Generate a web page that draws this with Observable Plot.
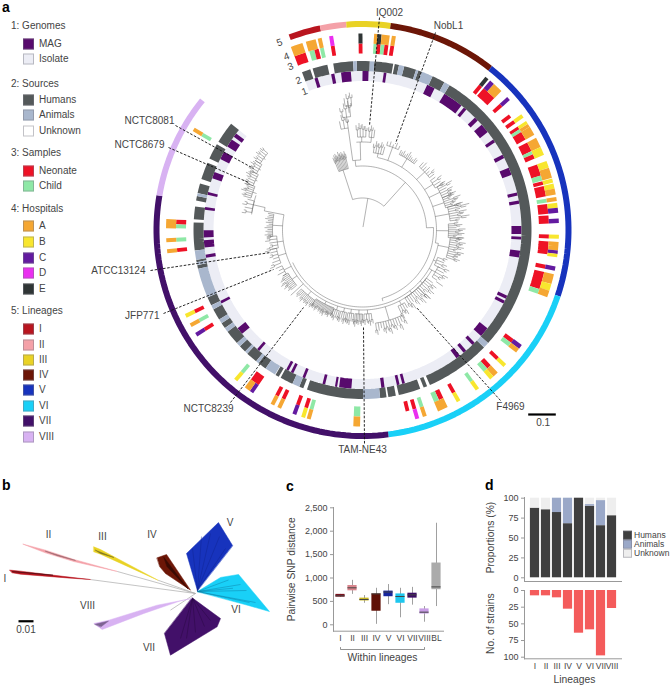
<!DOCTYPE html>
<html><head><meta charset="utf-8">
<script src="https://cdn.jsdelivr.net/npm/d3@7"></script>
<script src="https://cdn.jsdelivr.net/npm/@observablehq/plot@0.6"></script>
<style>
html,body{margin:0;padding:0;background:#fff}
#page{position:relative;width:672px;height:685px;overflow:hidden;font-family:"Liberation Sans",Arial,sans-serif;color:#444}
#page svg{position:absolute;overflow:visible}
.lg{position:absolute;white-space:nowrap;line-height:1.2;transform:translateY(-50%)}
.sw{position:absolute;transform:translateY(-50%);box-sizing:border-box;border:0.6px solid rgba(120,120,130,.45)}
.pl{position:absolute;font-weight:700;font-size:14px;color:#000;line-height:1.1;transform:translateY(-50%)}
</style></head><body><div id="page"></div>
<script>
// ---------- shared categories and colours ----------
const lineageNames=["I","II","III","IV","V","VI","VII","VIII"];
const lineageColors=["#b9151f","#f4a1a8","#e9d225","#6c1607","#1733bd","#19d0f7","#421069","#d8b2f2"];
const hospitalColors={A:"#f5a733",B:"#f8e62e",C:"#631aa0",D:"#ea2ff0",E:"#2f3535"};
const sampleColors={N:"#ee1226",G:"#8ee8a6"};
const magColor="#580a6d",isolateColor="#ecedf5",humansColor="#54595a",animalsColor="#a9b7cd";

// ---------- panel a: rings, [start angle, end angle] in degrees clockwise from north ----------
const lineageSpans=[[-20.7,-11.8],[-11.8,-4.5],[-4.5,7.8],[7.8,38.3],[38.3,108.6],[108.6,172.8],[172.8,279.6],[279.6,309]];
const isolateSpan=[[-21,309]];
const magSpans=[[-17.6,-16.4],[-11.4,-10.2],[-7.8,-4.2],[0,2.2],[7.7,8.7],[24,27],[31,38.5],[39.6,40.8],[45,46.5],[48.5,52],[55.3,56.5],[61.7,63.1],[66.9,69.7],[76.3,77.5],[79.3,80.5],[88.5,91.5],[92.4,93.4],[97.5,100],[114.4,115.6],[116.4,117.6],[128.2,131.8],[135.1,136.3],[139.3,140.5],[142.2,143.8],[164.5,165.5],[166.5,167.5],[172,173.2],[184,188.5],[189.2,190],[193.6,194.6],[201.2,202.2],[205.8,206.8],[207.7,208.7],[220.5,221.5],[229.2,231.8],[242.5,243.5],[259.9,261.1],[263.7,266.3],[267.3,269.9],[277.3,278.3],[282.8,283.8],[289,291.4],[296.5,299.5],[301.7,304.7],[305.9,307.4]];
const humanSpans=[[-21,-18],[-17.2,-12],[-10,-3.2],[-2,2.5],[4,10.5],[11,12.5],[14.3,18.5],[19.3,20.5],[24.5,29],[31,132],[134,156.5],[157.5,158.8],[160,167.6],[168.6,171.2],[171.8,174],[179.8,199.2],[200.5,202],[204.5,209],[209.7,211],[215,218],[219,223],[224,226.5],[228,233],[234.5,236.5],[238,242],[243.5,246.5],[256.7,258],[259,259.8],[263,272.6],[273.6,278],[280,281.6],[282.6,286],[287.5,293.5],[295,300.5],[301.5,309]];
const animalSpans=[[-3.2,-2],[2.5,4],[12.5,14.3],[18.5,19.3],[20.5,24.5],[29,31],[132,134],[174,179.8],[202,204.5],[211.2,215],[218,219],[223,224],[226.5,228],[233,234.5],[236.5,238],[242,243.5],[246.5,256.7],[258,259],[259.8,263],[281.6,282.6]];
const sampleSpans=[[-21.4,-17.8,"N"],[-16.6,-15,"G"],[-15,-13.6,"N"],[-13.2,-12,"G"],[-9.8,-8.6,"N"],[-1.2,0,"N"],[3.4,4.4,"G"],[4.4,5.6,"N"],[5.6,6.8,"G"],[6.8,8,"N"],[8.6,9.8,"N"],[38.7,39.9,"N"],[40.5,45,"N"],[47.4,48.6,"N"],[51.7,52.9,"N"],[53.9,55.1,"N"],[56.3,57.3,"N"],[57.3,58.3,"G"],[58.3,61,"N"],[62,65,"N"],[65,66,"G"],[66,67.5,"N"],[69.4,73,"N"],[73,74.6,"G"],[74.8,76,"N"],[76.3,79.6,"N"],[80.3,81.5,"G"],[82,85,"N"],[85.5,88,"N"],[91.4,92.6,"N"],[93.5,97.5,"N"],[100.7,102,"N"],[103,108.5,"N"],[108.5,110,"G"],[125.8,127.2,"N"],[127.2,128.6,"G"],[133,134.2,"N"],[136.5,138,"N"],[138,139.5,"G"],[143.6,144.8,"G"],[150.1,151.3,"N"],[154.3,155.8,"N"],[155.8,157.4,"G"],[160.9,162.1,"G"],[163.2,164.4,"N"],[165.4,166.6,"N"],[180.7,182.7,"G"],[195.3,196.5,"G"],[197,198.2,"N"],[199.7,200.9,"N"],[204.5,205.7,"N"],[206.7,207.9,"N"],[213.8,216.8,"N"],[219.6,220.8,"G"],[237.2,238.4,"N"],[240.4,241.6,"G"],[243.5,244.7,"N"],[263.2,264.4,"N"],[266.4,267.6,"G"],[270.5,271.8,"G"],[271.8,273.2,"N"],[300.2,301.4,"G"]];
const hospitalSpans=[[-21.4,-17.8,"A"],[-16.8,-13.8,"A"],[-13.2,-12,"A"],[-9.8,-8.6,"D"],[-1.2,0,"E"],[3.4,4.4,"A"],[4.4,5.6,"E"],[5.6,8,"A"],[8.6,9.8,"A"],[38.7,39.9,"E"],[40.5,42,"C"],[42,45,"A"],[47.4,48.6,"C"],[53.9,55.1,"B"],[56.3,57.3,"B"],[57.3,58.3,"A"],[58.3,61,"A"],[62,65,"A"],[65,67.5,"B"],[69.4,71.5,"B"],[71.5,74.6,"A"],[74.8,76,"B"],[76.3,77.8,"B"],[77.8,79.6,"A"],[80.3,81.5,"A"],[82,83.5,"B"],[83.5,85,"C"],[86.6,88,"C"],[91.4,92.6,"B"],[93.5,96,"A"],[96,97,"C"],[97,98,"B"],[100.7,102,"C"],[103,106,"A"],[106,108,"B"],[108,110,"A"],[125.8,127.2,"C"],[127.2,128.6,"A"],[133,134.2,"B"],[136.5,138.2,"A"],[138.2,139.5,"B"],[143.6,144.8,"B"],[150.1,151.3,"B"],[154.3,157.4,"A"],[160.9,162.1,"A"],[163.2,164.4,"D"],[180.7,182.7,"A"],[195.3,196.5,"A"],[197,198.2,"B"],[199.7,200.9,"C"],[204.5,205.7,"A"],[206.7,207.9,"A"],[213.8,215,"C"],[215,216.8,"A"],[219.6,220.8,"B"],[237.2,238.4,"C"],[240.4,241.6,"A"],[243.5,244.7,"B"],[263.2,264.4,"A"],[266.4,267.6,"A"],[270.5,273.2,"A"],[300.2,301.4,"A"]];

// ---------- panel a: tree, backbone arcs [a0,a1,r], radials [a,r0,r1] ----------
const treeArcs=[[-18,42,32],[-6,88,64],[-8,-1.5,70],[-4,5.5,88],[88,164,71],[12,100,74],[100,245,77],[120,281,80],[281,283,100],[278,288,112]];
const treeRadials=[[9.6,32,3],[42,32,64],[-6,64,70],[-1.5,70,88],[-8,70,103],[-18,32,63],[88,64,71],[100,74,77],[164,71,74],[281,80,100],[283,100,112],[227.7,80,97],[125,90,98]];
// clades: [first tip angle, last tip angle, arc radius, stem origin radius, tip lengths]
const clades=[
[-12,-8,103,103,[8,14,10]],[-10,-6,114,108,[10,14,16]],[-8,-5,125,118,[8,12,13]],
[-3,2,93,88,[12,14,13,11]],[4,7,93,88,[10,12,8]],
[-22,-13,63,63,[15,17,18,16,19,17,18,16,18]],
[8,15,78,74,[9,12,10,12,8]],[16,24,88,74,[4,5,3,6,4]],
[26,38,84,74,[5,4,6,3,5,8,5,4,3,6,5]],[42,52,85,74,[6,8,5,7,4,9,6]],
[54,60,84,74,[6,12,8,10]],[60,68,86,74,[10,16,8,14,12,15]],[68,75,86,74,[12,9,18,14,10,16]],[75,84,88,74,[16,22,12,18,14,20,10]],
[86,95,86,74,[10,14,8,17,12,16,9,15]],[95,108,88,77,[14,10,16,12,15,9,16,13,11,14]],
[110,116,80,77,[10,8,12,6]],[116,124,84,77,[12,8,14,10,6]],
[127,136,80,77,[8,14,12,16,10,17]],[136,148,80,77,[16,12,17,10,14,8,15,12]],
[150,155,84,80,[6,12,10,14]],[155,172,94,80,[10,6,14,8,12,9,14,10,12,6,8,12]],
[174,179,84,80,[10,12,9,11]],[180,185,84,80,[9,12,8,11,10,13]],[186,190,84,80,[10,8,12,11]],[191,195,84,80,[10,12,8,11]],[196,200,84,80,[10,8,11,9]],
[200,214,83,80,[7,9,8,11,9,10,8,12,9,11,8,10,7,9,11,8,10,9]],
[214,226,85,80,[7,9,6,10,8,9,7,10,8,6,9,7]],
[230,240,86,80,[7,10,8,12,9,13,7,11,8,6]],[240,246,88,80,[4,8,5,7]],
[248,258,88,80,[12,8,6,9,7,5]],[258,266,86,80,[14,9,8,12,10]],
[266,280,90,80,[6,8,5,7,5,8,6,4,7,5,8,6,5,6]],
[279,285,112,112,[10,8,11,7]],[286,292,116,112,[8,10,7,12,9,8,10]],[292,298,118,116,[9,11,8,10,12,9]],[298,303,120,118,[7,10,9,11,8]],[303,309,122,120,[6,9,7,10,8,9]]
];

// ---------- panel a: text and leaders, offsets from the tree centre ----------
const ringNumbers=[["5",-83,-187.5],["4",-76,-173.5],["3",-72,-163.5],["2",-64,-149.5],["1",-58,-138.5]];
const labelsMiddle=[["IQ002",27,-217.5],["NobL1",86,-204.5],["NCTC8239",-154,178.5],["TAM-NE43",0,219.5],["F4969",148,176.5]];
const labelsEnd=[["NCTC8081",-188,-109.5],["NCTC8679",-198,-85.5],["ATCC13124",-217,40.5],["JFP771",-203,85.5]];
const leaders=[[17,-212.5,7,-104.5],[73,-197.5,33,-86.5],[-187,-104.5,-109,-61.5],[-194,-82.5,-114,-47.5],[-212,40.5,-92,22.5],[-199,83.5,-89,39.5],[-132,172.5,-59,77.5],[2,213.5,1,97.5],[138,170.5,54,77.5]];
const scaleBarA=[[165.7,184.5,193.3,184.5]];

// ---------- panel b: polygons, units of 0.001 substitutions per site ----------
const starI=[[-123.8,15.6],[-116.7,14.9],[-85.6,11.1],[-70,9.3],[-85.6,10.4],[-116.7,12.9],[-122.2,13.8]];
const starII=[[-114.9,32.9],[-100,28.9],[-81.1,22.7],[-52.2,14.7],[-81.1,21.3],[-100,27.1]];
const starIII=[[-67.8,31.1],[-63.3,29.3],[-25.1,8.9],[-63.3,26.2],[-67.8,27.8]];
const starIV=[[-25.6,23.8],[-19.3,26],[-3.3,2.2],[-20,13.3],[-23.8,17.8]];
const starV=[[1.3,2],[-6,26.7],[15.3,47.3],[24.7,32]];
const starVI=[[1.3,1.3],[16.7,10.7],[28.7,12.7],[49.3,-12],[35.3,-8]];
const starVII=[[-2.2,-2.9],[16.7,-16.7],[14.4,-22.2],[-16.7,-41.1],[-20.7,-26.7]];
const starVIII=[[-2.2,-3.3],[-25.6,-7.8],[-57.8,-17.8],[-67.8,-20],[-62.2,-24],[-34.4,-13.3],[-10,-4.9]];
const starDark=[
 {c:"#4a0f14",p:[[-122,14.6],[-95,12.2],[-110,13.6]]},
 {c:"#9a6a70",p:[[-100,28.2],[-80,22],[-92,25.2]]},
 {c:"#7d7320",p:[[-66.7,28.9],[-54.4,24],[-63.3,26.7]]},
 {c:"#3a0a03",p:[[-21,24],[-5,3],[-19,18]]},
 {c:"#7d6392",p:[[-67,-20.5],[-58,-18.4],[-63,-22.2]]}];
const fanLines=[
 {c:"#0e2088",o:[1.3,2],e:[[-2,30],[4,38],[10,40],[16,38],[20,30]]},
 {c:"#0b6d92",o:[1.3,1.3],e:[[22,9],[30,6],[34,2],[25,3.5],[40,-6],[36,-6]]},
 {c:"#220538",o:[-2,-3],e:[[-10,-30],[-6,-30],[0,-26],[6,-22],[10,-18]]}];
const greyStems=[[-70,9.3],[-52.2,14.7],[-25.1,8.9],[-16.7,-11.1]];
const starLabels=[["I",-127,10],["II",-98,39],["III",-62,38],["IV",-29,39],["V",23,47],["VI",27,-10.7],["VII",-31,-36],["VIII",-72,-8]];
const scaleBarB=[[-118,-18.5,-108,-18.5]];

// ---------- panel c ----------
const boxGroups=["I","II","III","IV","V","VI","VII","VIII","BL"];
const boxColors=["#7b1420","#d9858d","#c7b61f","#5f1006","#17259f","#1ec7ee","#3b0c63","#c89de6","#ababab"];
const whiskLow=[590,650,460,10,430,150,420,55,390];
const boxLow=[590,726,510,290,600,460,570,230,750];
const boxMedian=[620,790,540,660,700,605,640,270,810];
const boxHigh=[650,840,570,660,720,660,675,340,1320];
const whiskHigh=[650,950,625,780,860,780,800,390,2170];
const snpTicks=[0,500,1000,1500,2000,2500];

// ---------- panel d ----------
const humansPct=[87.5,85.5,82,68,100,90,65.5,78];
const animalsPct=[0,0,18,32,0,2,31.5,0];
const unknownPct=[12.5,14.5,0,0,0,8,3,22];
const strainCounts=[8,8,11,28,64,59,98,27];
const dTicks=[0,25,50,75,100];

// ---------- legend ----------
const legendGroups=[
 {title:"1: Genomes",y:26,items:[["MAG",magColor,43.7],["Isolate",isolateColor,59]]},
 {title:"2: Sources",y:83.5,items:[["Humans",humansColor,100],["Animals",animalsColor,115],["Unknown","#ffffff",131]]},
 {title:"3: Samples",y:153,items:[["Neonate",sampleColors.N,171],["Child",sampleColors.G,186]]},
 {title:"4: Hospitals",y:208.5,items:[["A",hospitalColors.A,226],["B",hospitalColors.B,242.3],["C",hospitalColors.C,257.7],["D",hospitalColors.D,273.3],["E",hospitalColors.E,288.7]]},
 {title:"5: Lineages",y:311,items:lineageNames.map((n,i)=>[n,lineageColors[i],[329.3,344.7,360,375.3,390.3,405.7,421,436.7][i]])}
];
const dLegend=[["Humans","#3f3f3f",535],["Animals","#9aa8c8",544],["Unknown","#eeeeee",553.3]];

const page=document.getElementById("page");
const font='"Liberation Sans",Arial,sans-serif', ink="#444";
function place(el,l,t){el.style.left=l+"px";el.style.top=t+"px";page.appendChild(el);}
function txt(s,l,t,size,cls="lg"){const d=document.createElement("div");d.className=cls;d.textContent=s;d.style.left=l+"px";d.style.top=t+"px";if(size)d.style.fontSize=size+"px";page.appendChild(d);}
function swatch(c,l,t,w,h){const d=document.createElement("div");d.className="sw";d.style.cssText+=`left:${l}px;top:${t}px;width:${w}px;height:${h}px;background:${c}`;page.appendChild(d);}

// ---------- polar helpers ----------
const pol=(a,r)=>({x:r*Math.sin(a*Math.PI/180),y:-r*Math.cos(a*Math.PI/180)});
let sid=0;
function arcRows(a0,a1,r,color){const id=sid++,n=Math.max(1,Math.ceil(Math.abs(a1-a0)/1.5)),o=[];for(let i=0;i<=n;i++){o.push({id,color,...pol(a0+(a1-a0)*i/n,r)});}return o;}
function ringMark(spans,r,w,colorOf){
  const rows=spans.flatMap(s=>arcRows(s[0],s[1],r,colorOf(s)));
  return Plot.line(rows,{x:"x",y:"y",z:"id",stroke:"color",strokeWidth:w,strokeLinecap:"butt",strokeLinejoin:"miter"});
}
const lineageRows=lineageSpans.map((s,i)=>[s[0],s[1],lineageColors[i]]);
const treeRows=[];
const spoke=(a,r0,r1)=>{const id=sid++;treeRows.push({id,...pol(a,r0)},{id,...pol(a,r1)});};
treeArcs.forEach(([a0,a1,r])=>treeRows.push(...arcRows(a0,a1,r,"")));
treeRadials.forEach(([a,r0,r1])=>spoke(a,r0,r1));
clades.forEach(([a0,a1,base,from,tips])=>{
  treeRows.push(...arcRows(a0,a1,base,""));
  const m=(a0+a1)/2;
  if(from!==base)spoke(m,from,base);
  const w=(a1-a0)/(tips.length-1)/3;
  tips.forEach((len,i)=>{
    const a=a0+(a1-a0)*i/(tips.length-1);
    if(len<9){spoke(a,base,base+len);return;}
    // long tips end in a small terminal fork
    const f=base+len*0.6;
    spoke(a,base,f);
    treeRows.push(...arcRows(a-w,a+w,f,""));
    spoke(a-w,f,base+len);spoke(a+w,f,base+len*0.84);
  });
});

// ---------- panel a ----------
const plotA=Plot.plot({width:672,height:470,margin:0,
  x:{domain:[-362,310],axis:null},y:{domain:[240.5,-229.5],range:[470,0],axis:null},
  color:{type:"identity"},style:{background:"transparent",fontFamily:font,fontSize:"10px",overflow:"visible"},
  marks:[
    ringMark(isolateSpan,154,10,()=>isolateColor),
    ringMark(magSpans,154,10,()=>magColor),
    ringMark(humanSpans,164,10,()=>humansColor),
    ringMark(animalSpans,164,10,()=>animalsColor),
    ringMark(sampleSpans,181.5,10,s=>sampleColors[s[2]]),
    ringMark(hospitalSpans,191.5,10,s=>hospitalColors[s[2]]),
    ringMark(lineageRows,206,6,s=>s[2]),
    Plot.line(treeRows,{x:"x",y:"y",z:"id",stroke:"#555",strokeWidth:0.45,strokeLinecap:"butt"}),
    Plot.link(leaders,{x1:d=>d[0],y1:d=>d[1],x2:d=>d[2],y2:d=>d[3],stroke:"#111",strokeWidth:0.9,strokeDasharray:"2.6,1.6"}),
    Plot.text(labelsMiddle,{x:d=>d[1],y:d=>d[2],text:d=>d[0],fill:ink}),
    Plot.text(labelsEnd,{x:d=>d[1],y:d=>d[2],text:d=>d[0],textAnchor:"end",fill:ink}),
    Plot.text(ringNumbers,{x:d=>d[1],y:d=>d[2],text:d=>d[0],rotate:-20,fill:ink,fontSize:10}),
    Plot.link(scaleBarA,{x1:d=>d[0],y1:d=>d[1],x2:d=>d[2],y2:d=>d[3],stroke:"#000",strokeWidth:2.2}),
    Plot.text([["0.1",180.7,193]],{x:d=>d[1],y:d=>d[2],text:d=>d[0],fill:ink})
  ]});
place(plotA,0,0);

// ---------- panel b ----------
const poly=(pts,fill,stroke=fill)=>Plot.line(pts,{x:d=>d[0],y:d=>d[1],curve:"linear-closed",fill,stroke,strokeWidth:0.5});
const plotB=Plot.plot({width:270,height:215,margin:0,
  x:{domain:[-130,50],axis:null},y:{domain:[-61.33,82],axis:null},
  style:{background:"transparent",fontFamily:font,fontSize:"10px",overflow:"visible"},
  marks:[
    Plot.link(greyStems,{x1:d=>d[0],y1:d=>d[1],x2:0,y2:0,stroke:"#aaa",strokeWidth:0.7}),
    poly(starI,lineageColors[0]),poly(starII,lineageColors[1]),poly(starIII,lineageColors[2]),poly(starIV,lineageColors[3]),
    poly(starV,lineageColors[4]),poly(starVI,lineageColors[5]),poly(starVII,lineageColors[6]),poly(starVIII,lineageColors[7]),
    ...starDark.map(d=>poly(d.p,d.c)),
    ...fanLines.map(f=>Plot.link(f.e,{x1:f.o[0],y1:f.o[1],x2:d=>d[0],y2:d=>d[1],stroke:f.c,strokeWidth:0.7,strokeOpacity:0.55})),
    Plot.text(starLabels,{x:d=>d[1],y:d=>d[2],text:d=>d[0],fill:ink}),
    Plot.link(scaleBarB,{x1:d=>d[0],y1:d=>d[1],x2:d=>d[2],y2:d=>d[3],stroke:"#000",strokeWidth:2.2}),
    Plot.text([["0.01",-113,-24.5]],{x:d=>d[1],y:d=>d[2],text:d=>d[0],fill:ink})
  ]});
place(plotB,0,470);

// ---------- panel c ----------
const boxRows=boxGroups.map((g,i)=>({g,c:boxColors[i],wl:whiskLow[i],bl:boxLow[i],m:boxMedian[i],bh:boxHigh[i],wh:whiskHigh[i]}));
const plotC=Plot.plot({width:185,height:215,marginLeft:63,marginTop:37,marginBottom:54.3,marginRight:12,
  x:{type:"band",domain:boxGroups,range:[63.96,172.7],padding:0,axis:null},
  y:{domain:[0,2500],range:[154.3,37.3],axis:null},color:{type:"identity"},
  style:{background:"transparent",fontFamily:font,fontSize:"9px",overflow:"visible"},
  marks:[
    Plot.frame({anchor:"left",stroke:"#999"}),Plot.frame({anchor:"bottom",stroke:"#999"}),
    Plot.axisY({ticks:snpTicks,tickFormat:d3.format(","),tickSize:3,tickPadding:3,label:null,stroke:"#999",fill:ink}),
    Plot.axisX({tickSize:0,tickPadding:4,label:null,fill:ink,fontSize:8.5}),
    Plot.ruleX(boxRows,{x:"g",y1:"wl",y2:"wh",stroke:"#888",strokeWidth:0.8}),
    Plot.barY(boxRows,{x:"g",y1:"bl",y2:"bh",fill:"c",insetLeft:1.4,insetRight:1.4}),
    Plot.tickY(boxRows,{x:"g",y:"m",stroke:"#444",strokeWidth:1,insetLeft:1.4,insetRight:1.4}),
    Plot.line([["I",-485],["I",-528],["VIII",-528],["VIII",-485]],{x:d=>d[0],y:d=>d[1],stroke:"#777",strokeWidth:0.8}),
    Plot.text([["Within lineages"]],{x:()=>"IV",y:()=>-705,dx:6,text:d=>d[0],fill:ink,fontSize:10.3}),
    Plot.text([["Pairwise SNP distance"]],{frameAnchor:"left",textAnchor:"middle",text:d=>d[0],rotate:-90,dx:-42,dy:0,fill:ink,fontSize:10.3})
  ]});
place(plotC,270,470);

// ---------- panel d ----------
const propRows=lineageNames.flatMap((n,i)=>[{n,k:"Humans",v:humansPct[i],c:"#3f3f3f"},{n,k:"Animals",v:animalsPct[i],c:"#9aa8c8"},{n,k:"Unknown",v:unknownPct[i],c:"#eeeeee"}]);
const plotD1=Plot.plot({width:212,height:115,marginLeft:64,marginTop:27,marginBottom:4,marginRight:51,
  x:{type:"band",domain:lineageNames,range:[65.07,159.93],padding:0,axis:null},
  y:{domain:[0,100],range:[107.3,27.7],axis:null},color:{type:"identity"},
  style:{background:"transparent",fontFamily:font,fontSize:"9px",overflow:"visible"},
  marks:[
    Plot.barY(propRows,{x:"n",y:"v",fill:"c",insetLeft:0.9,insetRight:0.9,order:null}),
    Plot.frame({anchor:"left",stroke:"#999"}),Plot.frame({anchor:"bottom",stroke:"#999"}),
    Plot.axisY({ticks:dTicks,tickSize:3,tickPadding:3,label:null,stroke:"#999",fill:ink}),
    Plot.text([["Proportions (%)"]],{frameAnchor:"left",textAnchor:"middle",text:d=>d[0],rotate:-90,dx:-34,dy:-2,fill:ink,fontSize:10.3})
  ]});
place(plotD1,460,470);
const countRows=lineageNames.map((n,i)=>({n,v:strainCounts[i]}));
const plotD2=Plot.plot({width:212,height:100,marginLeft:64,marginTop:5,marginBottom:26.7,marginRight:51,
  x:{type:"band",domain:lineageNames,range:[65.07,159.93],padding:0,axis:null},
  y:{domain:[0,100],range:[5,71.7],axis:null},
  style:{background:"transparent",fontFamily:font,fontSize:"9px",overflow:"visible"},
  marks:[
    Plot.barY(countRows,{x:"n",y:"v",fill:"#f45b5b",insetLeft:0.9,insetRight:0.9}),
    Plot.frame({anchor:"left",stroke:"#999"}),Plot.frame({anchor:"bottom",stroke:"#999"}),
    Plot.axisY({ticks:dTicks,tickSize:3,tickPadding:3,label:null,stroke:"#999",fill:ink}),
    Plot.axisX({tickSize:0,tickPadding:4,label:null,fill:ink,fontSize:8.5}),
    Plot.text([["Lineages"]],{x:()=>"IV",y:()=>133,dx:6.4,text:d=>d[0],fill:ink,fontSize:10.3}),
    Plot.text([["No. of strains"]],{frameAnchor:"left",textAnchor:"middle",text:d=>d[0],rotate:-90,dx:-34,dy:-1,fill:ink,fontSize:10.3})
  ]});
place(plotD2,460,585);

// ---------- legends and panel letters ----------
legendGroups.forEach(g=>{txt(g.title,11,g.y,10);g.items.forEach(([n,c,y])=>{swatch(c,22.5,y,11,11);txt(n,39,y,10);});});
dLegend.forEach(([n,c,y])=>{swatch(c,623,y,8.5,8.5);txt(n,634,y,8.5);});
[["a",2,8],["b",2,486],["c",286,487],["d",485,486]].forEach(([s,l,t])=>txt(s,l,t,14,"pl"));
</script></body></html>
